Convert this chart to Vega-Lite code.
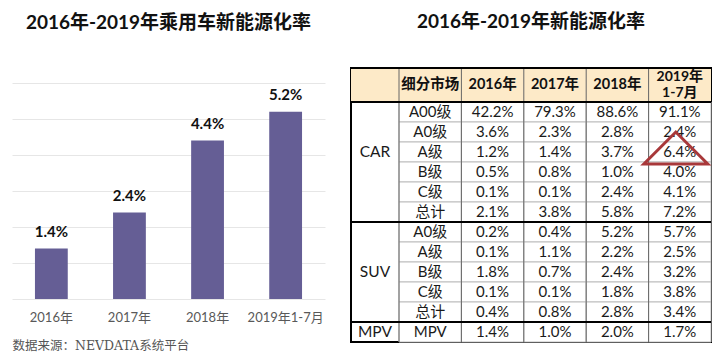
{
  "$schema": "https://vega.github.io/schema/vega-lite/v6.json",
  "background": "white",
  "padding": {"left": 12, "top": 12, "right": 0, "bottom": 0},
  "spacing": 24,
  "config": {"view": {"stroke": null}},
  "datasets": {
    "bars": [
      {"year": "2016年", "rate": 0.014},
      {"year": "2017年", "rate": 0.024},
      {"year": "2018年", "rate": 0.044},
      {"year": "2019年1-7月", "rate": 0.052}
    ],
    "rows": [
      {"grp": "CAR", "row": "CAR|A00级", "细分市场": "A00级", "2016年": 0.422, "2017年": 0.793, "2018年": 0.886, "2019年1-7月": 0.911},
      {"grp": "CAR", "row": "CAR|A0级", "细分市场": "A0级", "2016年": 0.036, "2017年": 0.023, "2018年": 0.028, "2019年1-7月": 0.024},
      {"grp": "CAR", "row": "CAR|A级", "细分市场": "A级", "2016年": 0.012, "2017年": 0.014, "2018年": 0.037, "2019年1-7月": 0.064},
      {"grp": "CAR", "row": "CAR|B级", "细分市场": "B级", "2016年": 0.005, "2017年": 0.008, "2018年": 0.010, "2019年1-7月": 0.040},
      {"grp": "CAR", "row": "CAR|C级", "细分市场": "C级", "2016年": 0.001, "2017年": 0.001, "2018年": 0.024, "2019年1-7月": 0.041},
      {"grp": "CAR", "row": "CAR|总计", "细分市场": "总计", "2016年": 0.021, "2017年": 0.038, "2018年": 0.058, "2019年1-7月": 0.072},
      {"grp": "SUV", "row": "SUV|A0级", "细分市场": "A0级", "2016年": 0.002, "2017年": 0.004, "2018年": 0.052, "2019年1-7月": 0.057},
      {"grp": "SUV", "row": "SUV|A级", "细分市场": "A级", "2016年": 0.001, "2017年": 0.011, "2018年": 0.022, "2019年1-7月": 0.025},
      {"grp": "SUV", "row": "SUV|B级", "细分市场": "B级", "2016年": 0.018, "2017年": 0.007, "2018年": 0.024, "2019年1-7月": 0.032},
      {"grp": "SUV", "row": "SUV|C级", "细分市场": "C级", "2016年": 0.001, "2017年": 0.001, "2018年": 0.018, "2019年1-7月": 0.038},
      {"grp": "SUV", "row": "SUV|总计", "细分市场": "总计", "2016年": 0.004, "2017年": 0.008, "2018年": 0.028, "2019年1-7月": 0.034},
      {"grp": "MPV", "row": "MPV|MPV", "细分市场": "MPV", "2016年": 0.014, "2017年": 0.010, "2018年": 0.020, "2019年1-7月": 0.017}
    ],
    "header": [
      {"col": "细分市场", "label": "细分市场"},
      {"col": "2016年", "label": "2016年"},
      {"col": "2017年", "label": "2017年"},
      {"col": "2018年", "label": "2018年"},
      {"col": "2019年1-7月", "label": "2019年\n1-7月"}
    ],
    "groups": [
      {"grp": "CAR", "mid": "CAR|A级", "first": "CAR|A00级"},
      {"grp": "SUV", "mid": "SUV|B级", "first": "SUV|A0级"},
      {"grp": "MPV", "mid": "MPV|MPV", "first": "MPV|MPV"}
    ],
    "marks": [
      {"col": "2019年1-7月", "row": "CAR|A级"}
    ]
  },
  "hconcat": [
    {
      "width": 313,
      "height": 231,
      "title": {"text": "2016年-2019年乘用车新能源化率", "font": "Lato, Noto Sans CJK SC", "fontSize": 19, "fontWeight": "bold", "color": "#111111", "anchor": "middle", "baseline": "alphabetic", "offset": 20},
      "data": {"name": "bars"},
      "encoding": {
        "x": {
          "field": "year", "type": "nominal", "sort": null,
          "scale": {"paddingInner": 0.58, "paddingOuter": 0.294},
          "axis": {
            "labelAngle": 0, "domain": false, "ticks": false, "labelPadding": 12,
            "labelFont": "Lato, Noto Sans CJK SC", "labelFontSize": 13, "labelColor": "#595959",
            "title": "数据来源：NEVDATA系统平台", "titleAnchor": "start", "titleAlign": "left",
            "titleFont": "DejaVu Serif, Noto Sans CJK SC", "titleFontSize": 12.5, "titleFontWeight": "normal",
            "titleColor": "#555555", "titlePadding": 15
          }
        },
        "y": {
          "field": "rate", "type": "quantitative",
          "scale": {"domain": [0, 0.064167], "nice": false},
          "axis": {"values": [0, 0.01, 0.02, 0.03, 0.04, 0.05, 0.06], "grid": true, "gridColor": "#e6e6e6", "labels": false, "ticks": false, "domain": false, "title": null}
        }
      },
      "layer": [
        {"mark": {"type": "bar", "color": "#655e95"}},
        {
          "mark": {"type": "text", "baseline": "alphabetic", "dy": -12, "font": "Lato", "fontSize": 15, "fontWeight": "bold", "color": "#111111"},
          "encoding": {"text": {"field": "rate", "format": ".1%"}}
        }
      ]
    },
    {
      "width": 360,
      "height": 274,
      "title": {"text": "2016年-2019年新能源化率", "font": "Lato, Noto Sans CJK SC", "fontSize": 19, "fontWeight": "bold", "color": "#111111", "anchor": "middle", "baseline": "alphabetic", "offset": 20},
      "view": {"stroke": "#000000", "strokeWidth": 2},
      "resolve": {"scale": {"x": "independent", "y": "independent"}},
      "layer": [
        {
          "data": {"values": [{"h": "hdr"}]},
          "mark": {"type": "rect", "color": "#fdeac8"},
          "encoding": {
            "y": {"field": "h", "type": "nominal", "axis": null, "scale": {"domain": ["hdr"], "range": [0, 34], "paddingInner": 0, "paddingOuter": 0}}
          }
        },
        {
          "data": {"name": "rows"},
          "transform": [{"fold": ["细分市场", "2016年", "2017年", "2018年", "2019年1-7月"]}],
          "mark": {"type": "rect", "fill": "white", "stroke": "#bdbdbd", "strokeWidth": 1},
          "encoding": {
            "x": {"field": "key", "type": "nominal", "axis": null, "scale": {"domain": ["细分市场", "2016年", "2017年", "2018年", "2019年1-7月"], "range": [48, 360], "paddingInner": 0, "paddingOuter": 0}},
            "y": {"field": "row", "type": "nominal", "axis": null, "scale": {"domain": ["CAR|A00级", "CAR|A0级", "CAR|A级", "CAR|B级", "CAR|C级", "CAR|总计", "SUV|A0级", "SUV|A级", "SUV|B级", "SUV|C级", "SUV|总计", "MPV|MPV"], "range": [34, 274], "paddingInner": 0, "paddingOuter": 0}}
          }
        },
        {
          "data": {"name": "rows"},
          "mark": {"type": "text", "font": "Lato, Noto Sans CJK SC", "fontSize": 15, "color": "#1a1a1a"},
          "encoding": {
            "x": {"datum": "细分市场", "type": "nominal", "axis": null, "scale": {"domain": ["细分市场", "2016年", "2017年", "2018年", "2019年1-7月"], "range": [48, 360], "paddingInner": 0, "paddingOuter": 0}},
            "y": {"field": "row", "type": "nominal", "axis": null, "scale": {"domain": ["CAR|A00级", "CAR|A0级", "CAR|A级", "CAR|B级", "CAR|C级", "CAR|总计", "SUV|A0级", "SUV|A级", "SUV|B级", "SUV|C级", "SUV|总计", "MPV|MPV"], "range": [34, 274], "paddingInner": 0, "paddingOuter": 0}},
            "text": {"field": "细分市场"}
          }
        },
        {
          "data": {"name": "rows"},
          "transform": [{"fold": ["2016年", "2017年", "2018年", "2019年1-7月"]}],
          "mark": {"type": "text", "font": "Lato", "fontSize": 15, "color": "#1a1a1a"},
          "encoding": {
            "x": {"field": "key", "type": "nominal", "axis": null, "scale": {"domain": ["细分市场", "2016年", "2017年", "2018年", "2019年1-7月"], "range": [48, 360], "paddingInner": 0, "paddingOuter": 0}},
            "y": {"field": "row", "type": "nominal", "axis": null, "scale": {"domain": ["CAR|A00级", "CAR|A0级", "CAR|A级", "CAR|B级", "CAR|C级", "CAR|总计", "SUV|A0级", "SUV|A级", "SUV|B级", "SUV|C级", "SUV|总计", "MPV|MPV"], "range": [34, 274], "paddingInner": 0, "paddingOuter": 0}},
            "text": {"field": "value", "format": ".1%"}
          }
        },
        {
          "data": {"name": "header"},
          "transform": [{"filter": "datum.col != '2019年1-7月'"}],
          "mark": {"type": "text", "font": "Lato, Noto Sans CJK SC", "fontSize": 14.5, "fontWeight": "bold", "color": "#111111"},
          "encoding": {
            "x": {"field": "col", "type": "nominal", "axis": null, "scale": {"domain": ["细分市场", "2016年", "2017年", "2018年", "2019年1-7月"], "range": [48, 360], "paddingInner": 0, "paddingOuter": 0}},
            "y": {"datum": "hdr", "type": "nominal", "axis": null, "scale": {"domain": ["hdr"], "range": [0, 34], "paddingInner": 0, "paddingOuter": 0}},
            "text": {"field": "label"}
          }
        },
        {
          "data": {"name": "header"},
          "transform": [{"filter": "datum.col == '2019年1-7月'"}],
          "mark": {"type": "text", "font": "Lato, Noto Sans CJK SC", "fontSize": 14, "fontWeight": "bold", "color": "#111111", "lineBreak": "\n", "lineHeight": 16, "dy": -8},
          "encoding": {
            "x": {"field": "col", "type": "nominal", "axis": null, "scale": {"domain": ["细分市场", "2016年", "2017年", "2018年", "2019年1-7月"], "range": [48, 360], "paddingInner": 0, "paddingOuter": 0}},
            "y": {"datum": "hdr", "type": "nominal", "axis": null, "scale": {"domain": ["hdr"], "range": [0, 34], "paddingInner": 0, "paddingOuter": 0}},
            "text": {"field": "label"}
          }
        },
        {
          "data": {"name": "groups"},
          "transform": [{"filter": "datum.grp == 'CAR'"}],
          "mark": {"type": "text", "font": "Lato", "fontSize": 15.5, "color": "#1a1a1a"},
          "encoding": {
            "x": {"datum": "cat", "type": "nominal", "axis": null, "scale": {"domain": ["cat"], "range": [0, 48], "paddingInner": 0, "paddingOuter": 0}},
            "y": {"field": "mid", "type": "nominal", "axis": null, "bandPosition": 1, "scale": {"domain": ["CAR|A00级", "CAR|A0级", "CAR|A级", "CAR|B级", "CAR|C级", "CAR|总计", "SUV|A0级", "SUV|A级", "SUV|B级", "SUV|C级", "SUV|总计", "MPV|MPV"], "range": [34, 274], "paddingInner": 0, "paddingOuter": 0}},
            "text": {"field": "grp"}
          }
        },
        {
          "data": {"name": "groups"},
          "transform": [{"filter": "datum.grp != 'CAR'"}],
          "mark": {"type": "text", "font": "Lato", "fontSize": 15.5, "color": "#1a1a1a"},
          "encoding": {
            "x": {"datum": "cat", "type": "nominal", "axis": null, "scale": {"domain": ["cat"], "range": [0, 48], "paddingInner": 0, "paddingOuter": 0}},
            "y": {"field": "mid", "type": "nominal", "axis": null, "bandPosition": 0.5, "scale": {"domain": ["CAR|A00级", "CAR|A0级", "CAR|A级", "CAR|B级", "CAR|C级", "CAR|总计", "SUV|A0级", "SUV|A级", "SUV|B级", "SUV|C级", "SUV|总计", "MPV|MPV"], "range": [34, 274], "paddingInner": 0, "paddingOuter": 0}},
            "text": {"field": "grp"}
          }
        },
        {
          "data": {"name": "header"},
          "mark": {"type": "rule", "color": "#666666", "strokeWidth": 1},
          "encoding": {
            "x": {"field": "col", "type": "nominal", "axis": null, "bandPosition": 0, "scale": {"domain": ["细分市场", "2016年", "2017年", "2018年", "2019年1-7月"], "range": [48, 360], "paddingInner": 0, "paddingOuter": 0}}
          }
        },
        {
          "data": {"name": "groups"},
          "mark": {"type": "rule", "color": "#000000", "strokeWidth": 2},
          "encoding": {
            "y": {"field": "first", "type": "nominal", "axis": null, "bandPosition": 0, "scale": {"domain": ["CAR|A00级", "CAR|A0级", "CAR|A级", "CAR|B级", "CAR|C级", "CAR|总计", "SUV|A0级", "SUV|A级", "SUV|B级", "SUV|C级", "SUV|总计", "MPV|MPV"], "range": [34, 274], "paddingInner": 0, "paddingOuter": 0}}
          }
        },
        {
          "data": {"values": [{"h": "hdr"}]},
          "mark": {"type": "rule", "color": "#000000", "strokeWidth": 2},
          "encoding": {
            "y": {"field": "h", "type": "nominal", "axis": null, "bandPosition": 0, "scale": {"domain": ["hdr"], "range": [0, 34], "paddingInner": 0, "paddingOuter": 0}}
          }
        },
        {
          "data": {"name": "marks"},
          "mark": {"type": "point", "shape": "M-1,0.5L0,-0.5L1,0.5Z", "size": 4096, "filled": false, "stroke": "#a8383a", "strokeWidth": 3, "opacity": 1, "xOffset": -4, "yOffset": -4},
          "encoding": {
            "x": {"field": "col", "type": "nominal", "axis": null, "scale": {"domain": ["细分市场", "2016年", "2017年", "2018年", "2019年1-7月"], "range": [48, 360], "paddingInner": 0, "paddingOuter": 0}},
            "y": {"field": "row", "type": "nominal", "axis": null, "scale": {"domain": ["CAR|A00级", "CAR|A0级", "CAR|A级", "CAR|B级", "CAR|C级", "CAR|总计", "SUV|A0级", "SUV|A级", "SUV|B级", "SUV|C级", "SUV|总计", "MPV|MPV"], "range": [34, 274], "paddingInner": 0, "paddingOuter": 0}}
          }
        }
      ]
    }
  ]
}
